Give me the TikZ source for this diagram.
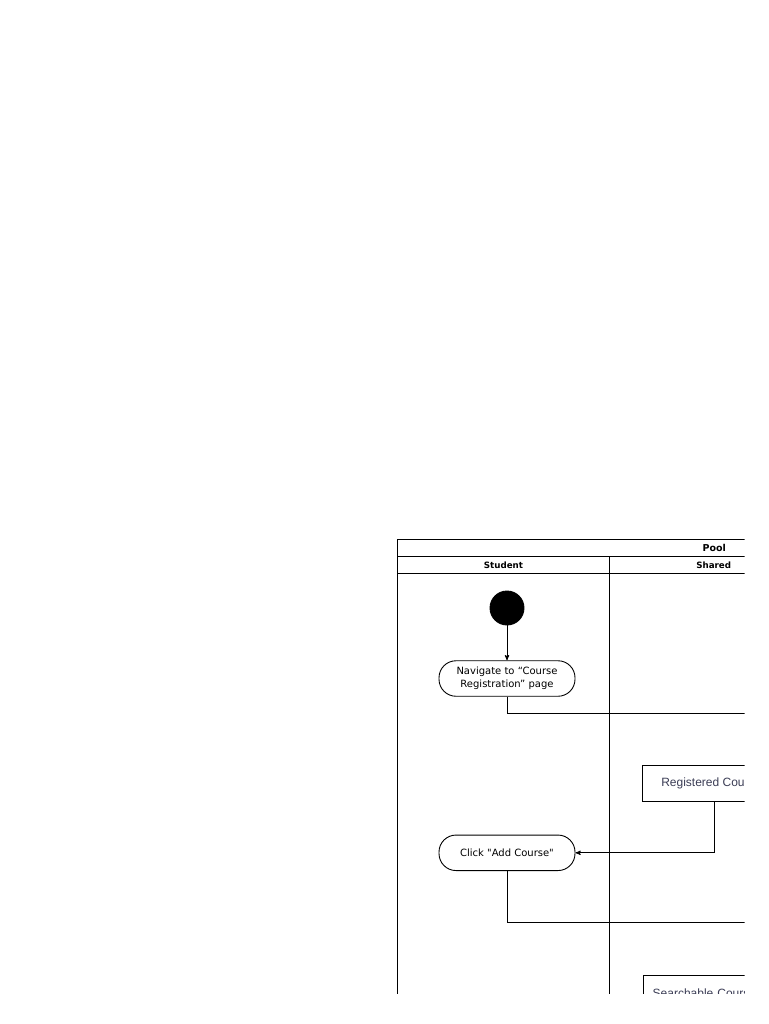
\documentclass[tikz,border=0pt]{standalone}
\usepackage{fontspec}
\setmainfont{DejaVu Sans}
\newfontfamily\boxfont{Liberation Sans}
\usepackage{tikz}
\usetikzlibrary{arrows}
\definecolor{boxtext}{HTML}{3B3D55}

\begin{document}
\begin{tikzpicture}[x=1pt,y=-1pt,->,>=stealth',line width=0.9pt,
  act node/.style={rectangle,rounded corners=17pt,draw,fill=white,align=center,
    minimum width=136pt,minimum height=35.5pt,inner sep=0pt,
    font=\fontsize{10}{12.7}\selectfont},
  start node/.style={circle,fill=black,draw,minimum size=34pt,inner sep=0pt},
  obj node/.style={rectangle,draw,fill=white,minimum width=143pt,minimum height=35.5pt,
    inner sep=0pt,text=boxtext,font=\boxfont\fontsize{12}{14}\selectfont},
  head node/.style={inner sep=0pt,font=\bfseries\fontsize{8.7}{10}\selectfont}]
  \useasboundingbox (0,0) rectangle (768,1024);
  \begin{scope}
  \clip (396,538) rectangle (744.5,993);
  % pool and lanes
  \draw[-] (397,1100) -- (397,539) -- (1100,539);
  \draw[-] (397,556) -- (1100,556);
  \draw[-] (397,573) -- (1100,573);
  \draw[-] (609,556) -- (609,1100);
  \node[head node,font=\bfseries\fontsize{9.5}{12}\selectfont] (pool) at (714.3,547.5) {Pool};
  \node[head node] (student) at (503.5,565) {Student};
  \node[head node] (shared) at (713.7,565) {Shared};

  \node[start node] (start) at (507,608) {};
  \node[act node] (nav) at (507,678.5) {Navigate to “Course\\Registration” page};
  \node[obj node] (reg) at (714.3,783.3) {Registered Courses};
  \node[act node] (click) at (507,852.8) {Click \textquotedbl Add Course\textquotedbl};
  \node[obj node,anchor=north west,text width=124pt,inner xsep=9.5pt,align=left,
    minimum height=37pt] (search) at (642.7,974.5) {Searchable Courses};
  \coordinate (navout) at (800,713);
  \coordinate (clickout) at (800,922.7);

  \path (start) edge (nav);
  \draw[-] (nav.south) |- (navout);
  \draw[->] (reg.south) |- (click.east);
  \draw[-] (click.south) |- (clickout);
  \end{scope}
\end{tikzpicture}
\end{document}
